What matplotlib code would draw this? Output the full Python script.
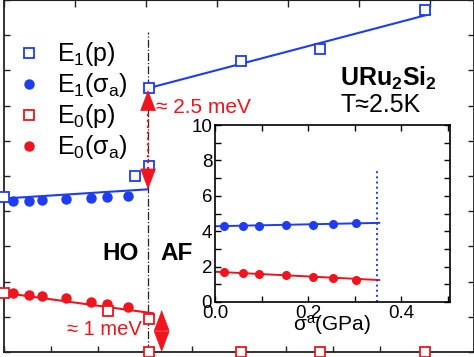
import matplotlib
matplotlib.use("Agg")
import matplotlib.pyplot as plt
from matplotlib.lines import Line2D
from matplotlib.ticker import MultipleLocator

plt.rcParams['font.family'] = ['Liberation Sans', 'DejaVu Sans']
plt.rcParams['mathtext.fontset'] = 'custom'
plt.rcParams['mathtext.rm'] = 'Liberation Sans'
plt.rcParams['mathtext.it'] = 'Liberation Sans:italic'
plt.rcParams['mathtext.bf'] = 'Liberation Sans:bold'

BLUE = "#1f3cf2"
RED = "#f0141e"
DARK = "#222222"

# === DATA ===
# uniaxial stress sigma_a (GPa) and energies (meV)
sigma_a = [0.02, 0.06, 0.095, 0.153, 0.21, 0.253, 0.303]
e1_sigma = [4.28, 4.30, 4.31, 4.34, 4.37, 4.41, 4.44]
e0_sigma = [1.68, 1.62, 1.58, 1.52, 1.42, 1.37, 1.27]
# same stress points placed on the main (pressure) axis
p_of_sigma = [0.037, 0.108, 0.163, 0.264, 0.369, 0.440, 0.526]

# hydrostatic pressure points (GPa) and energies (meV)
p_e1 = [0.0, 0.557, 0.617, 0.617, 1.009, 1.343, 1.793]
e1_p = [4.41, 5.01, 5.29, 7.51, 8.27, 8.61, 9.72]
p_e0 = [0.0, 0.444, 0.617, 0.617, 1.009, 1.343, 1.793]
e0_p = [1.67, 1.16, 0.93, 0.0, 0.0, 0.0, 0.0]

# fitted lines (main panel)
fit_e1_ho_p = [0.0, 0.609]
fit_e1_ho = [4.36, 4.62]
fit_e1_af_p = [0.617, 1.813]
fit_e1_af = [7.50, 9.60]
fit_e0_ho_p = [0.0, 0.634]
fit_e0_ho = [1.68, 1.10]

# fitted lines (inset)
fit_sig = [0.0, 0.353]
fit_e1_sig = [4.28, 4.47]
fit_e0_sig = [1.71, 1.24]

P_X = 0.613       # HO/AF boundary (pressure)
SIGMA_X = 0.348   # HO/AF boundary (stress)

# gap arrows: (x, low end, high end) in meV
gap_big = (P_X, 4.62, 7.44)
gap_small = (0.671, 0.0, 1.19)
HEAD = 0.42  # arrow head length in meV


def gap_arrow(ax, x, lo, hi):
    ax.plot([x, x], [lo + HEAD, hi - HEAD], color=RED, lw=1.6, ls=':',
            zorder=6, clip_on=False)
    style = '-|>,head_length=1.0,head_width=0.38'
    for tip, tail in ((hi, hi - HEAD), (lo, lo + HEAD)):
        ax.annotate('', xy=(x, tip), xytext=(x, tail),
                    arrowprops=dict(arrowstyle=style, color=RED, lw=0.5,
                                    shrinkA=0, shrinkB=0, mutation_scale=14),
                    zorder=6)


# === FIGURE ===
fig = plt.figure(figsize=(4.74, 3.57), dpi=100)
ax = fig.add_axes([4 / 474, 5 / 357, 470 / 474, 352 / 357])

ax.plot(fit_e1_ho_p, fit_e1_ho, color=BLUE, lw=1.5)
ax.plot(fit_e1_af_p, fit_e1_af, color=BLUE, lw=1.5)
ax.plot(fit_e0_ho_p, fit_e0_ho, color=RED, lw=1.5)

ax.plot([P_X, P_X], [0, 9.1], color=DARK, lw=0.9, ls='-.', zorder=1)

ax.plot(p_of_sigma, e1_sigma, 'o', color=BLUE, ms=6.5, zorder=4)
ax.plot(p_of_sigma, e0_sigma, 'o', color=RED, ms=6.5, zorder=4)
ax.plot(p_e1, e1_p, 's', mfc='white', mec=BLUE, mew=1.3, ms=6.5,
        clip_on=False, zorder=5)
ax.plot(p_e0, e0_p, 's', mfc='white', mec=RED, mew=1.3, ms=6.5,
        clip_on=False, zorder=5)

gap_arrow(ax, *gap_big)
gap_arrow(ax, *gap_small)
ax.text(0.647, 6.96, '≈ 2.5 meV', color=RED, fontsize=15,
        ha='left', va='center')
ax.text(0.585, 0.63, '≈ 1 meV', color=RED, fontsize=14.5,
        ha='right', va='center')

ax.text(0.496, 2.81, 'HO', fontsize=17.5, fontweight='bold',
        ha='center', va='center')
ax.text(0.734, 2.81, 'AF', fontsize=17.5, fontweight='bold',
        ha='center', va='center')
ax.text(1.43, 7.76, r'URu$_\mathbf{2}$Si$_\mathbf{2}$', fontsize=18,
        fontweight='bold', ha='left', va='center')
ax.text(1.43, 7.02, 'T≈2.5K', fontsize=18, ha='left', va='center')

ax.set_xlim(0, 2.0)
ax.set_ylim(0, 10)
ax.xaxis.set_major_locator(MultipleLocator(0.2))
ax.yaxis.set_major_locator(MultipleLocator(1))
ax.tick_params(direction='in', length=4, width=1, color=DARK,
               left=True, right=True, bottom=True, top=False,
               labelleft=False, labelbottom=False)
for s in ax.spines.values():
    s.set_color(DARK)
    s.set_linewidth(1.3)

top = ax.secondary_xaxis('top', functions=(lambda p: p * 235 / 71,
                                           lambda t: t * 71 / 235))
top.xaxis.set_major_locator(MultipleLocator(1))
top.tick_params(direction='in', length=5, width=1, color=DARK,
                labeltop=False)

handles = [
    Line2D([], [], ls='none', marker='s', mfc='white', mec=BLUE, mew=1.3, ms=6.5),
    Line2D([], [], ls='none', marker='o', color=BLUE, ms=6.5),
    Line2D([], [], ls='none', marker='s', mfc='white', mec=RED, mew=1.3, ms=6.5),
    Line2D([], [], ls='none', marker='o', color=RED, ms=6.5),
]
labels = [r'E$_\mathrm{1}$(p)', r'E$_\mathrm{1}$(σ$_\mathrm{a}$)',
          r'E$_\mathrm{0}$(p)', r'E$_\mathrm{0}$(σ$_\mathrm{a}$)']
ax.legend(handles, labels, loc='upper left', bbox_to_anchor=(-0.01, 0.935),
          frameon=False, fontsize=18, handlelength=1.0, handletextpad=0.6,
          labelspacing=0.12, borderaxespad=0.3)

# === INSET ===
ins = fig.add_axes([215 / 474, 55 / 357, 235 / 474, 177 / 357])
ins.plot(fit_sig, fit_e1_sig, color=BLUE, lw=1.4)
ins.plot(fit_sig, fit_e0_sig, color=RED, lw=1.4)
ins.plot(sigma_a, e1_sigma, 'o', color=BLUE, ms=5.5)
ins.plot(sigma_a, e0_sigma, 'o', color=RED, ms=5.5)
ins.plot([SIGMA_X, SIGMA_X], [0, 7.5], color=BLUE, lw=1.4, ls=':')

ins.set_xlim(0, 0.505)
ins.set_ylim(0, 10)
ins.xaxis.set_major_locator(MultipleLocator(0.2))
ins.xaxis.set_minor_locator(MultipleLocator(0.1))
ins.yaxis.set_major_locator(MultipleLocator(2))
ins.yaxis.set_minor_locator(MultipleLocator(1))
ins.xaxis.set_major_formatter(lambda v, pos: f'{v:.1f}')
ins.tick_params(which='both', direction='in', top=True, right=True,
                width=1, labelsize=13.5, pad=2)
ins.tick_params(which='major', length=4)
ins.tick_params(which='minor', length=4)
ins.set_xlabel(r'σ$^\mathrm{a}$(GPa)', fontsize=15, labelpad=-6)
for s in ins.spines.values():
    s.set_linewidth(1.2)

fig.savefig("out.png", dpi=100)
